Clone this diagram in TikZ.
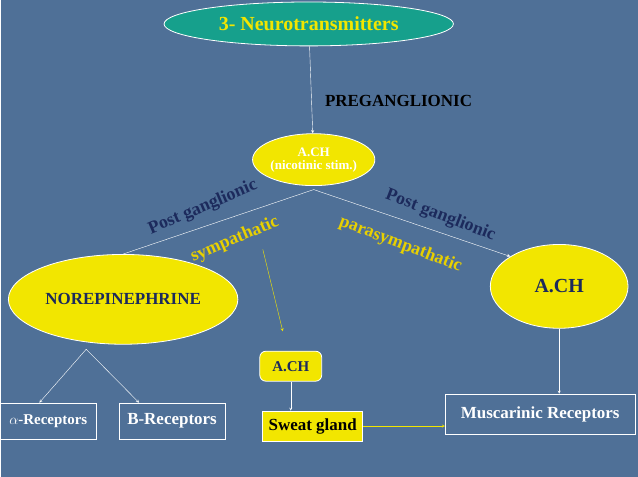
\documentclass[tikz,border=0pt]{standalone}
\usepackage{fontspec}
\setmainfont{Liberation Serif}
\usetikzlibrary{shapes.geometric}
\definecolor{bg}{HTML}{4F7097}
\definecolor{teal}{HTML}{16A08C}
\definecolor{yel}{HTML}{F2E600}
\definecolor{navy}{HTML}{1C2A5C}
\definecolor{gold}{HTML}{E8D000}
\newcommand{\fs}[1]{\fontsize{#1}{#1}\selectfont\bfseries}
\begin{document}
\begin{tikzpicture}[x=1pt,y=-1pt]
    \tikzstyle{oval} = [ellipse, draw=white, thick, fill=yel, inner sep=0pt]
    \tikzstyle{box} = [rectangle, draw=white, thick, font=\fs{17}, inner sep=3pt]
    \tikzstyle{arrow} = [white, ->, >=stealth]
    \tikzstyle{diag} = [font=\fs{18}, inner sep=1pt]

    \fill[bg] (0,0) rectangle (638,478);

    \node (title) [oval, fill=teal, minimum width=290, minimum height=44, text=yel, font=\fs{20}] at (308,24) {3- Neurotransmitters};
    \node (ach) [oval, minimum width=118, minimum height=52, text=white, align=center, font=\fs{13}] at (313,160) {A.CH\\(nicotinic stim.)};
    \node (norep) [oval, minimum width=230, minimum height=90, text=navy, font=\fs{17}] at (122,300) {NOREPINEPHRINE};
    \node (achr) [oval, minimum width=138, minimum height=84, text=navy, font=\fs{20}] at (559,287) {A.CH};
    \node (achs) [box, fill=yel, rounded corners=6pt, minimum width=62, minimum height=30, text=navy, font=\fs{15}] at (290,367) {A.CH};
    \node (sweat) [box, fill=yel, minimum width=100, minimum height=30, text=black] at (312,427) {Sweat gland};
    \node (musc) [box, minimum width=190, minimum height=40, text=white] at (540,415) {Muscarinic Receptors};
    \node (alpha) [box, minimum width=96, minimum height=36, text=white, font=\fs{15}] at (47,422) {$\alpha$-Receptors};
    \node (beta) [box, minimum width=106, minimum height=36, text=white] at (171,422) {B-Receptors};
    \node (pre) [font=\fs{17}, text=black] at (398,101) {PREGANGLIONIC};

    \coordinate (split) at (313,190);
    \coordinate (fork) at (85,350);
    \coordinate (symA) at (262,250);
    \coordinate (symB) at (282,332);

    \draw [arrow] (title) -- (ach);
    \draw [white] (split) -- (norep.north);
    \draw [arrow] (split) -- (achr.north west);
    \draw [arrow, yel] (symA) -- (symB);
    \draw [arrow] (achs) -- (sweat.north -| achs);
    \draw [arrow, yel] (sweat.east) -- (sweat.east -| musc.west);
    \draw [arrow] (achr) -- (musc.north -| achr);
    \draw [arrow] (fork) -- (alpha.north -| 38,0);
    \draw [arrow] (fork) -- (beta.north -| 138,0);

    \node [diag, text=navy, rotate=23] at (202,208) {Post ganglionic};
    \node [diag, text=gold, rotate=23] at (234,240) {sympathatic};
    \node [diag, text=navy, rotate=-21] at (440,216) {Post ganglionic};
    \node [diag, text=gold, rotate=-21] at (400,245) {parasympathatic};
\end{tikzpicture}
\end{document}
